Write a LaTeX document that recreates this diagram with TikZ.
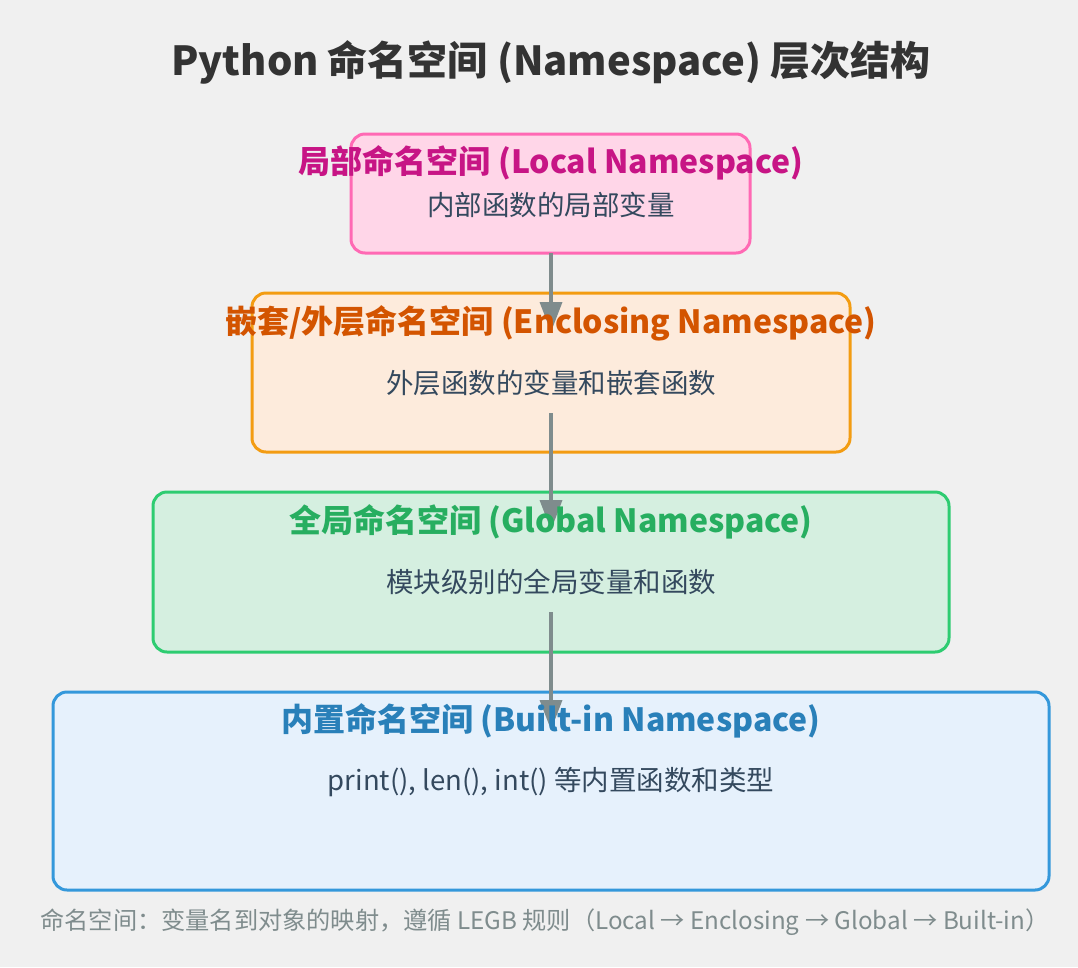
\documentclass[tikz,border=0pt]{standalone}
\usepackage{fontspec}
\setmainfont{Noto Sans CJK SC}
\usetikzlibrary{arrows.meta}
\definecolor{bg}{HTML}{F0F0F0}
\definecolor{ar}{HTML}{7F8C8D}
\definecolor{subc}{HTML}{34495E}
\definecolor{b1}{HTML}{FF69B4}\definecolor{f1}{HTML}{FFD6E8}\definecolor{t1}{HTML}{C71585}
\definecolor{b2}{HTML}{F39C12}\definecolor{f2}{HTML}{FDEBDC}\definecolor{t2}{HTML}{D35400}
\definecolor{b3}{HTML}{2ECC71}\definecolor{f3}{HTML}{D5EFE0}\definecolor{t3}{HTML}{27AE60}
\definecolor{b4}{HTML}{3498DB}\definecolor{f4}{HTML}{E6F1FC}\definecolor{t4}{HTML}{2980B9}
\tikzset{box/.style={draw,line width=3pt,rounded corners=14pt},
 ttl/.style={font=\bfseries\fontsize{32}{38}\selectfont},
 sub/.style={font=\fontsize{27.5}{32}\selectfont,text=subc},
 arr/.style={draw=ar,line width=3.5pt,-{Triangle[width=22pt,length=30pt]},shorten >=0pt}}
\begin{document}
\begin{tikzpicture}[x=1pt,y=-1pt]
\fill[bg] (0,0) rectangle (1078,967);
\useasboundingbox (0,0) rectangle (1078,967);
\node[font=\bfseries\fontsize{40}{46}\selectfont,text=black!80] (t) at (551,62) {Python 命名空间 (Namespace) 层次结构};
\draw[box,draw=b1,fill=f1] (351,134) rectangle (750,253);
\draw[box,draw=b2,fill=f2] (252,293) rectangle (850,452);
\draw[box,draw=b3,fill=f3] (153,492) rectangle (949,652);
\draw[box,draw=b4,fill=f4] (53,692) rectangle (1049,890);
\coordinate (a1) at (551,253); \coordinate (a2) at (551,332);
\coordinate (b1s) at (551,413); \coordinate (b2e) at (551,530);
\coordinate (c1) at (551,612); \coordinate (c2) at (551,730);
\draw[arr] (a1) -- (a2);
\draw[arr] (b1s) -- (b2e);
\draw[arr] (c1) -- (c2);
\node[ttl,text=t1] (n1) at (551,163) {局部命名空间 (Local Namespace)};
\node[sub] (s1) at (551,205) {内部函数的局部变量};
\node[ttl,text=t2] (n2) at (551,323) {嵌套/外层命名空间 (Enclosing Namespace)};
\node[sub] (s2) at (551,383) {外层函数的变量和嵌套函数};
\node[ttl,text=t3] (n3) at (551,522) {全局命名空间 (Global Namespace)};
\node[sub] (s3) at (551,582) {模块级别的全局变量和函数};
\node[ttl,text=t4] (n4) at (551,721) {内置命名空间 (Built-in Namespace)};
\node[sub] (s4) at (551,782) {print(), len(), int() 等内置函数和类型};
\node[font=\fontsize{24.2}{28}\selectfont,text=ar] (f) at (545,922) {命名空间：变量名到对象的映射，遵循 LEGB 规则（Local → Enclosing → Global → Built-in）};
\end{tikzpicture}
\end{document}
